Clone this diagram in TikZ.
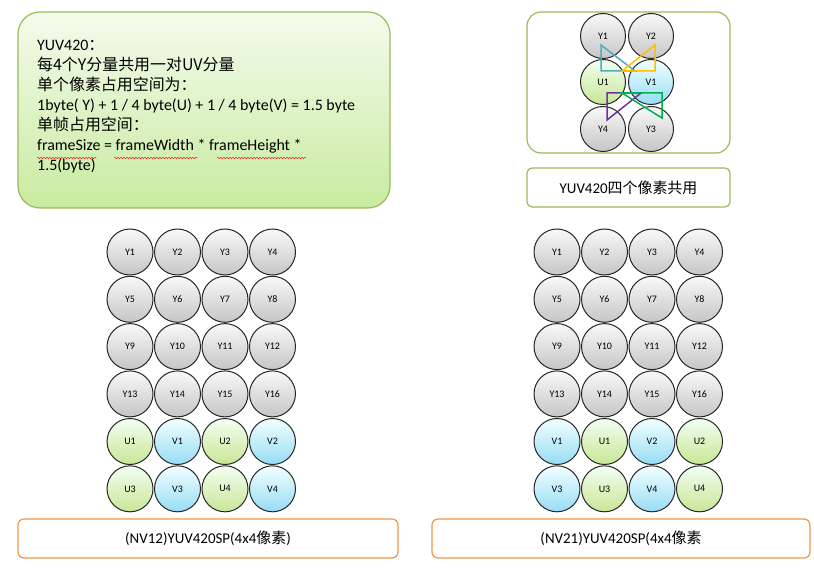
\documentclass[tikz,border=0pt]{standalone}
\usepackage{fontspec}
\setmainfont{Carlito}
\newfontfamily\cjk{Noto Sans CJK SC}
\usetikzlibrary{decorations.pathmorphing}
\definecolor{gbd}{RGB}{155,187,89}
\definecolor{ubot}{RGB}{200,230,150}
\definecolor{vbot}{RGB}{150,220,245}
\definecolor{obd}{RGB}{240,150,70}
\definecolor{tcy}{RGB}{75,172,198}
\definecolor{tye}{RGB}{255,192,0}
\definecolor{tpu}{RGB}{112,48,160}
\definecolor{tgr}{RGB}{0,176,80}
\definecolor{tbg}{RGB}{200,235,160}
\begin{document}
\begin{tikzpicture}[x=1bp,y=-1bp,
  pix/.style={circle,draw=black!85,line width=1bp,minimum size=46bp,inner sep=0pt,font=\fontsize{10}{11}\selectfont},
  ypix/.style={pix,top color=white!95!gray,bottom color=gray!45},
  upix/.style={pix,top color=green!5!white,bottom color=ubot},
  vpix/.style={pix,top color=cyan!5!white,bottom color=vbot},
  obox/.style={draw=obd,line width=1.2bp,rounded corners=6bp,fill=white},
  gbox/.style={draw=gbd,line width=1.2bp,rounded corners=14bp},
  tri/.style={line width=1.5bp},
  wavy/.style={red,decorate,decoration={snake,amplitude=0.8bp,segment length=3bp}}]
\useasboundingbox (0,0) rectangle (814,584);
% top-left text box
\node[gbox,top color=white!80!tbg,bottom color=tbg,minimum width=372bp,minimum height=196bp,rounded corners=22bp] (tb) at (204,110) {};
\node[anchor=north west,align=left,font=\fontsize{16}{20}\selectfont\cjk,inner sep=0pt] (txt) at (37,40) {%
\fontspec{Carlito}YUV420\cjk：\\
每4个Y分量共用一对UV分量\\
单个像素占用空间为：\\
\fontspec{Carlito}1byte( Y) + 1 / 4 byte(U) + 1 / 4 byte(V) = 1.5 byte\\
单帧占用空间：\\
\fontspec{Carlito}frameSize = frameWidth * frameHeight *\\
\fontspec{Carlito}1.5(byte)};
\coordinate (w1a) at (37,158); \coordinate (w1b) at (97,158);
\coordinate (w2a) at (114,158); \coordinate (w2b) at (198,158);
\coordinate (w3a) at (217,158); \coordinate (w3b) at (306,158);
\draw[wavy] (w1a) -- (w1b);
\draw[wavy] (w2a) -- (w2b);
\draw[wavy] (w3a) -- (w3b);
% top-right
\node[gbox,minimum width=203bp,minimum height=141bp,fill=white] (rb) at (628.5,82.5) {};
\node[ypix,minimum size=45bp] (a1) at (603,36) {Y1};
\node[ypix,minimum size=45bp] (a2) at (651,36) {Y2};
\node[ypix,minimum size=45bp] (a4) at (603,129) {Y4};
\node[ypix,minimum size=45bp] (a3) at (651,129) {Y3};
\node[upix,minimum size=45bp] (au) at (603,82) {U1};
\node[vpix,minimum size=45bp] (av) at (651,82) {V1};
\draw[tri,draw=tcy] (601,45) -- (601,71) -- (635,71) -- cycle;
\draw[tri,draw=tye] (655,45) -- (655,71) -- (622,71) -- cycle;
\draw[tri,draw=tpu] (607,93) -- (607,120) -- (641,93) -- cycle;
\draw[tri,draw=tgr] (622,93) -- (662,93) -- (662,118) -- cycle;
\node[gbox,rounded corners=5bp,minimum width=203bp,minimum height=39bp,font=\fontsize{15}{17}\selectfont] (lab) at (628.5,187.5) {YUV420{\cjk 四个像素共用}};
% grids
\foreach \gx in {130,557}{
  \foreach \r in {0,...,3}{
    \foreach \c in {0,...,3}{
      \pgfmathtruncatemacro{\n}{\r*4+\c+1}
      \node[ypix] (g\gx-\n) at ({\gx+\c*47.5},{252+\r*47.3}) {Y\n};
    }}
}
\makeatletter
\foreach \gx/\names in {130/{U1,V1,U2,V2,U3,V3,U4,V4},557/{V1,U1,V2,U2,V3,U3,V4,U4}}{
  \foreach \nm [count=\i from 0] in \names{
    \pgfmathtruncatemacro{\r}{int(\i/4)}
    \pgfmathtruncatemacro{\c}{mod(\i,4)}
    \edef\first{\expandafter\@car\nm\@nil}
    \if U\first \def\sty{upix}\else\def\sty{vpix}\fi
    \node[\sty] (h\gx-\i) at ({\gx+\c*47.5},{441.5+\r*47.3}) {\nm};
  }
}
\makeatother
\node[obox,minimum width=380bp,minimum height=39bp,font=\fontsize{15}{17}\selectfont] (l1) at (208,538.5) {(NV12)YUV420SP(4x4{\cjk 像素})};
\node[obox,minimum width=378bp,minimum height=39bp,font=\fontsize{15}{17}\selectfont] (l2) at (621,538.5) {(NV21)YUV420SP(4x4{\cjk 像素}};
\end{tikzpicture}
\end{document}
